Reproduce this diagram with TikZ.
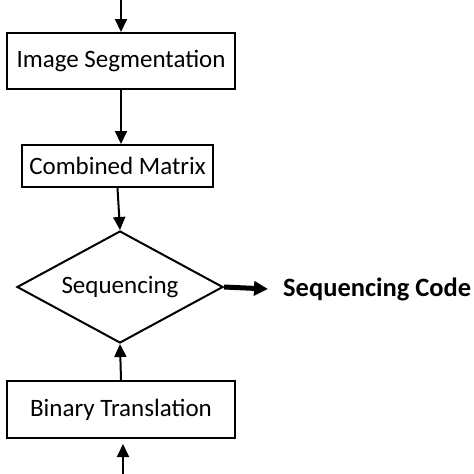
\documentclass[tikz,border=0pt]{standalone}
\usepackage{fontspec}
\setmainfont{Carlito}
\usetikzlibrary{arrows.meta,shapes.geometric}
\begin{document}
\begin{tikzpicture}[x=1pt,y=-1pt,
  box/.style={draw,line width=2pt,inner sep=0pt,font=\fontsize{25}{28}\selectfont},
  flow/.style={line width=2pt,-{Triangle[length=13pt,width=12pt]}},
  thickflow/.style={line width=5pt,-{Triangle[length=14pt,width=14pt]}}]
\useasboundingbox (0,0) rectangle (474,474);
\fill[white] (0,0) rectangle (474,474);
\node[box,minimum width=228pt,minimum height=56pt] (isg) at (121,61) {Image Segmentation};
\node[box,minimum width=191pt,minimum height=42pt] (cm) at (117.5,166) {Combined Matrix};
\node[box,diamond,aspect=1.84,minimum width=206pt,minimum height=112pt] (seq) at (120,287) {Sequencing};
\node[box,minimum width=228pt,minimum height=57pt] (bt) at (121,409.5) {Binary Translation};
\node[anchor=west,inner sep=0pt,font=\fontsize{26.5}{30}\selectfont\bfseries] (code) at (283,289) {Sequencing Code};
\coordinate (topin) at (121,0);
\coordinate (botin) at (123,474);
\coordinate (botend) at (123,444);
\coordinate (codeend) at (268,289);
\draw[flow] (topin) -- (isg.north);
\draw[flow] (isg.south) -- (isg.south |- cm.north);
\draw[flow] (cm.south) -- (seq.north);
\draw[flow] (bt.north) -- (seq.south);
\draw[flow] (botin) -- (botend);
\draw[thickflow] (seq.east) -- (codeend);
\end{tikzpicture}
\end{document}
